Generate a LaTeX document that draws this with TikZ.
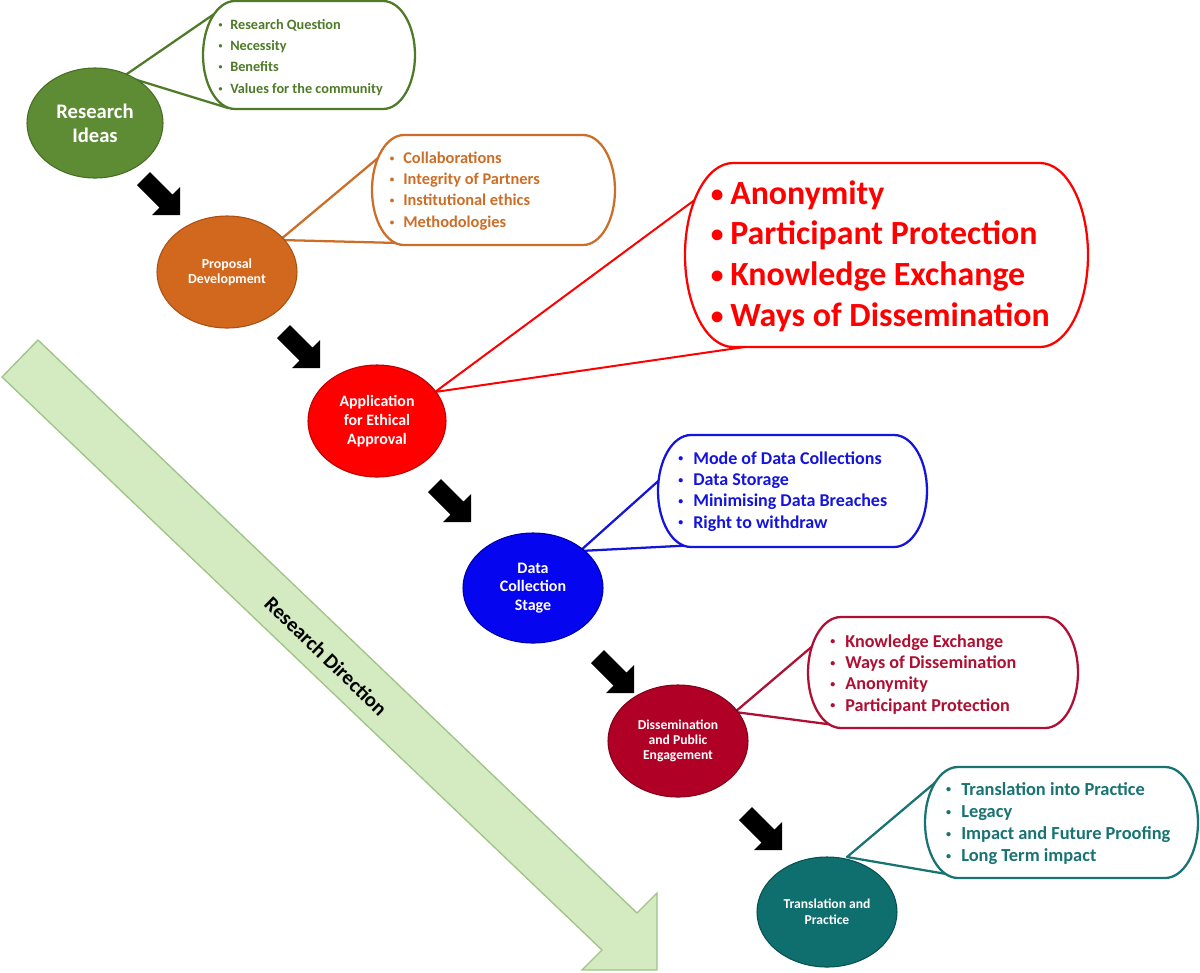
\documentclass[tikz,border=0pt]{standalone}
\usepackage{fontspec}
\usepackage{graphicx}
\setmainfont{Carlito}
\usetikzlibrary{shapes.geometric}
\definecolor{gfill}{RGB}{94,140,52}
\definecolor{gdark}{RGB}{70,110,35}
\definecolor{gtext}{RGB}{79,122,40}
\definecolor{ofill}{RGB}{209,104,30}
\definecolor{odark}{RGB}{170,80,20}
\definecolor{otext}{RGB}{205,110,40}
\definecolor{rfill}{RGB}{255,0,0}
\definecolor{rdark}{RGB}{190,0,0}
\definecolor{rtext}{RGB}{255,0,0}
\definecolor{bfill}{RGB}{5,5,240}
\definecolor{bdark}{RGB}{0,0,170}
\definecolor{btext}{RGB}{20,20,220}
\definecolor{cfill}{RGB}{176,0,38}
\definecolor{cdark}{RGB}{130,0,25}
\definecolor{ctext}{RGB}{175,15,50}
\definecolor{tfill}{RGB}{15,110,110}
\definecolor{tdark}{RGB}{10,80,80}
\definecolor{ttext}{RGB}{25,115,115}
\definecolor{arrowfill}{RGB}{212,235,194}
\definecolor{arrowedge}{RGB}{160,195,135}
\newcommand\itm{\llap{\raisebox{0.12em}{\scalebox{0.55}{\textbullet}}\hspace{0.55em}}}
\newcommand\itmbig{\llap{\raisebox{0.05em}{\scalebox{0.75}{\textbullet}}\hspace{0.2em}}}
\tikzset{
  stage/.style={ellipse, inner sep=0pt, minimum width=105pt, minimum height=84pt,
    text=white, align=center, line width=0.8pt},
  calloutline/.style={line width=1.7pt, line join=round},
  callouttext/.style={anchor=base west, inner sep=0pt},
  blkarrow/.pic={\fill[black] (0,0) -- (0,-28) -- (-7.5,-20.5) -- (-30,-43) -- (-43,-30) -- (-20.5,-7.5) -- (-28,0) -- cycle;}
}
\begin{document}
\begin{tikzpicture}[x=0.75pt,y=-0.75pt]
\useasboundingbox (0,0) rectangle (1200,972);

% big research direction arrow
\draw[fill=arrowfill, draw=arrowedge, line width=1pt, line join=miter]
  (38,340) -- (637,913) -- (657,893) -- (657,970) -- (582,970) -- (602,950) -- (2,377) -- cycle;
\node[rotate=-44, font=\bfseries\fontsize{15.5}{17}\selectfont] (rd) at (326,656) {Research Direction};

% pointer coordinates
\coordinate (t1) at (124,76);   \coordinate (u1) at (220,10);   \coordinate (l1) at (228,108);
\coordinate (t2) at (280,240);  \coordinate (u2) at (381,155.5);\coordinate (l2) at (399,243);
\coordinate (t3) at (435,392);  \coordinate (u3) at (698,197.5);\coordinate (l3) at (748,346.5);
\coordinate (t4) at (580,551);  \coordinate (u4) at (665,475);  \coordinate (l4) at (697,545);
\coordinate (t5) at (735,712);  \coordinate (u5) at (825,635.5);\coordinate (l5) at (850,727);
\coordinate (t6) at (847,857);  \coordinate (u6) at (947,772.5);\coordinate (l6) at (958,876);

\draw[calloutline, gtext] (u1) -- (t1) -- (l1);
\draw[calloutline, otext] (u2) -- (t2) -- (l2);
\draw[calloutline, rtext, line width=1.5pt] (u3) -- (t3) -- (l3);
\draw[calloutline, btext] (u4) -- (t4) -- (l4);
\draw[calloutline, ctext] (u5) -- (t5) -- (l5);
\draw[calloutline, ttext] (u6) -- (t6) -- (l6);

% callout boxes
\draw[calloutline, gtext, fill=white] (235,1) -- (383,1) arc[start angle=90, end angle=-90, x radius=24pt, y radius=40.5pt] -- (235,109) arc[start angle=270, end angle=90, x radius=24pt, y radius=40.5pt] -- cycle;
\draw[calloutline, otext, fill=white] (404,135) -- (583,135) arc[start angle=90, end angle=-90, x radius=24pt, y radius=41.25pt] -- (404,245) arc[start angle=270, end angle=90, x radius=24pt, y radius=41.25pt] -- cycle;
\draw[calloutline, rtext, fill=white] (733,163) -- (1040,163) arc[start angle=90, end angle=-90, x radius=36pt, y radius=69pt] -- (733,347) arc[start angle=270, end angle=90, x radius=36pt, y radius=69pt] -- cycle;
\draw[calloutline, btext, fill=white] (691,435) -- (894,435) arc[start angle=90, end angle=-90, x radius=24.75pt, y radius=42pt] -- (691,547) arc[start angle=270, end angle=90, x radius=24.75pt, y radius=42pt] -- cycle;
\draw[calloutline, ctext, fill=white] (841,617) -- (1045,617) arc[start angle=90, end angle=-90, x radius=24.75pt, y radius=41.625pt] -- (841,728) arc[start angle=270, end angle=90, x radius=24.75pt, y radius=41.625pt] -- cycle;
\draw[calloutline, ttext, fill=white] (958,767) -- (1165,767) arc[start angle=90, end angle=-90, x radius=24.75pt, y radius=41.625pt] -- (958,878) arc[start angle=270, end angle=90, x radius=24.75pt, y radius=41.625pt] -- cycle;

% callout texts
\node[callouttext, text=gtext, font=\bfseries\fontsize{10.7}{16}\selectfont] (c1) at (230,29)
  {\begin{tabular}[t]{@{}l@{}}\itm Research Question\\\itm Necessity\\\itm Benefits\\\itm Values for the community\end{tabular}};
\node[callouttext, text=otext, font=\bfseries\fontsize{12.3}{16}\selectfont] (c2) at (403,163)
  {\begin{tabular}[t]{@{}l@{}}\itm Collaborations\\\itm Integrity of Partners\\\itm Institutional ethics\\\itm Methodologies\end{tabular}};
\node[callouttext, text=rtext, font=\bfseries\fontsize{25.4}{30.5}\selectfont] (c3) at (730,204)
  {\begin{tabular}[t]{@{}l@{}}\itmbig Anonymity\\\itmbig Participant Protection\\\itmbig Knowledge Exchange\\\itmbig Ways of Dissemination\end{tabular}};
\node[callouttext, text=btext, font=\bfseries\fontsize{13.5}{16}\selectfont] (c4) at (693,464)
  {\begin{tabular}[t]{@{}l@{}}\itm Mode of Data Collections\\\itm Data Storage\\\itm Minimising Data Breaches\\\itm Right to withdraw\end{tabular}};
\node[callouttext, text=ctext, font=\bfseries\fontsize{13.6}{16}\selectfont] (c5) at (845,647)
  {\begin{tabular}[t]{@{}l@{}}\itm Knowledge Exchange\\\itm Ways of Dissemination\\\itm Anonymity\\\itm Participant Protection\end{tabular}};
\node[callouttext, text=ttext, font=\bfseries\fontsize{13.8}{16.7}\selectfont] (c6) at (961,795)
  {\begin{tabular}[t]{@{}l@{}}\itm Translation into Practice\\\itm Legacy\\\itm Impact and Future Proofing\\\itm Long Term impact\end{tabular}};

% stage ellipses
\node[stage, fill=gfill, draw=gdark, minimum width=102pt, minimum height=82.5pt, font=\bfseries\fontsize{15.5}{18}\selectfont] (e1) at (95,123) {Research\\Ideas};
\node[stage, fill=ofill, draw=odark, font=\bfseries\fontsize{10.4}{11.3}\selectfont] (e2) at (227,272) {Proposal\\Development};
\node[stage, fill=rfill, draw=rdark, minimum width=103.5pt, font=\bfseries\fontsize{11.9}{14}\selectfont] (e3) at (377,421) {Application\\for Ethical\\Approval};
\node[stage, fill=bfill, draw=bdark, minimum height=82.5pt, font=\bfseries\fontsize{12}{14}\selectfont] (e4) at (533,588) {Data\\Collection\\Stage};
\node[stage, fill=cfill, draw=cdark, font=\bfseries\fontsize{10.2}{11.5}\selectfont] (e5) at (678,741) {Dissemination\\and Public\\Engagement};
\node[stage, fill=tfill, draw=tdark, minimum height=82.5pt, font=\bfseries\fontsize{10.2}{12}\selectfont] (e6) at (827,912) {Translation and\\Practice};

% black step arrows
\pic (a1) at (180,215) {blkarrow};
\pic (a2) at (320,368) {blkarrow};
\pic (a3) at (471,522) {blkarrow};
\pic (a4) at (634,693) {blkarrow};
\pic (a5) at (782,850) {blkarrow};
\end{tikzpicture}
\end{document}
